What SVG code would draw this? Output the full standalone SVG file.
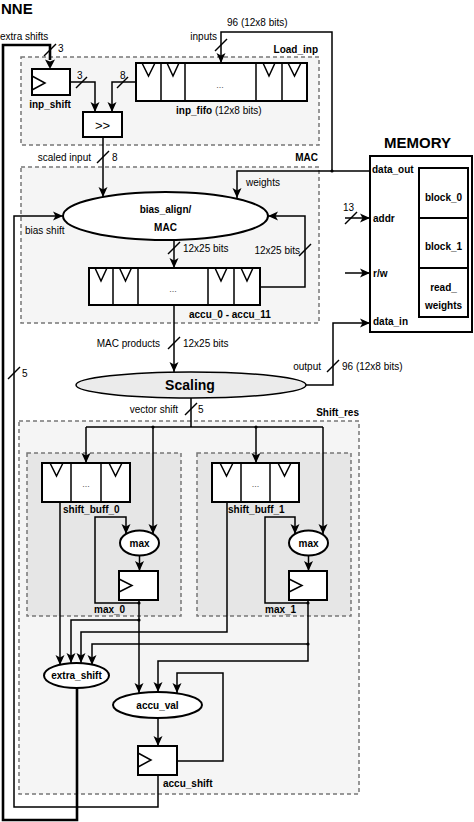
<svg xmlns="http://www.w3.org/2000/svg" width="474" height="822" viewBox="0 0 474 822">
<defs>
<style>
text{font-family:"Liberation Sans",Arial,sans-serif;font-size:10px;fill:#000}
.b{font-weight:bold}
.c{text-anchor:middle}
.e{text-anchor:end}
.dots{font-size:9px;fill:#555;text-anchor:middle}
.grp{fill:#f5f5f5;stroke:#777;stroke-width:1.5;stroke-dasharray:4 3}
.grp2{fill:#e6e6e6;stroke:#777;stroke-width:1.5;stroke-dasharray:4 3}
.box{fill:#fff;stroke:#000;stroke-width:2}
.ln{fill:none;stroke:#000;stroke-width:1.5}
.arr{fill:none;stroke:#000;stroke-width:1.5;marker-end:url(#ah)}
.thick{fill:none;stroke:#000;stroke-width:2.6}
.tick{stroke:#000;stroke-width:1.5}
.clk{fill:none;stroke:#000;stroke-width:1.5}
</style>
<marker id="ah" markerWidth="10" markerHeight="10" refX="10" refY="5" orient="auto" markerUnits="userSpaceOnUse">
<path d="M0,0.5 L10,5 L0,9.5 L2.5,5 z" fill="#000"/>
</marker>
</defs>

<rect width="474" height="822" fill="#fff"/>
<text x="1" y="14" class="b" style="font-size:15px">NNE</text>

<!-- group boxes -->
<g id="Load_inp">
<rect x="21" y="57" width="298" height="88" class="grp"/>
<text x="318" y="53" class="b e">Load_inp</text>
</g>
<g id="MAC">
<rect x="21" y="167" width="298" height="156" class="grp"/>
<text x="318" y="161" class="b e">MAC</text>
</g>
<g id="Shift_res">
<rect x="19" y="421" width="340" height="373" class="grp"/>
<text x="359" y="416" class="b e">Shift_res</text>
<rect x="27" y="453" width="154" height="163" class="grp2"/>
<rect x="197" y="453" width="154" height="163" class="grp2"/>
</g>

<!-- connectors -->
<g id="connectors">
<polyline class="thick" points="77,688 77,820 3,820 3,45 50,45 50,60"/>
<path d="M45,59.5 L50,69 L55,59.5 L50,61.5 z" fill="#000"/>
<polyline class="arr" points="370,171 237,171 237,198"/>
<polyline class="arr" points="332,171 332,32 221,32 221,63"/>
<circle cx="332" cy="171" r="1.6"/>
<polyline class="arr" points="70,82 95,82 95,112"/>
<polyline class="arr" points="136,82 112,82 112,112"/>
<line class="arr" x1="103" y1="137" x2="103" y2="197"/>
<line class="arr" x1="174" y1="240" x2="174" y2="268"/>
<polyline class="arr" points="260,287 305,287 305,216 268,216"/>
<line class="arr" x1="174" y1="305" x2="174" y2="372"/>
<polyline class="arr" points="306,385 333,385 333,323 370,323"/>
<line class="arr" x1="345" y1="218" x2="370" y2="218"/>
<line class="arr" x1="345" y1="273" x2="370" y2="273"/>
<line class="ln" x1="191" y1="398" x2="191" y2="427"/>
<line class="ln" x1="86" y1="427" x2="323" y2="427"/>
<line class="arr" x1="86" y1="427" x2="86" y2="463"/>
<line class="arr" x1="153" y1="427" x2="153" y2="534"/>
<line class="arr" x1="256" y1="427" x2="256" y2="463"/>
<line class="arr" x1="323" y1="427" x2="323" y2="534"/>
<circle cx="153" cy="427" r="1.6"/>
<circle cx="256" cy="427" r="1.6"/>
<!-- max_0 loop -->
<line class="arr" x1="139.5" y1="555.5" x2="139.5" y2="571"/>
<polyline class="arr" points="139,603 95,603 95,517 126,517 126,534"/>
<circle cx="139" cy="603" r="1.6"/>
<!-- max_1 loop -->
<line class="arr" x1="308.5" y1="555.5" x2="308.5" y2="571"/>
<polyline class="arr" points="308,603 265,603 265,517 295,517 295,534"/>
<circle cx="308" cy="603" r="1.6"/>
<!-- to extra_shift / accu_val -->
<line class="arr" x1="60" y1="502" x2="60" y2="665"/>
<line class="arr" x1="139" y1="600" x2="139" y2="693"/>
<polyline class="arr" points="139,620 71,620 71,663"/>
<circle cx="139" cy="620" r="1.6"/>
<polyline class="arr" points="227,502 227,632 81,632 81,663"/>
<polyline class="arr" points="308,600 308,661 158,661 158,692"/>
<polyline class="arr" points="308,644 92,644 92,665"/>
<circle cx="308" cy="644" r="1.6"/>
<line class="arr" x1="158" y1="718" x2="158" y2="746"/>
<polyline class="arr" points="177,761 223,761 223,673 177,673 177,693"/>
<polyline class="arr" points="158,775 158,807 14,807 14,216 63,216"/>
<!-- ticks -->
<line class="tick" x1="44" y1="56" x2="56" y2="44"/>
<line class="tick" x1="215" y1="51" x2="227" y2="39"/>
<line class="tick" x1="76" y1="88" x2="87" y2="77"/>
<line class="tick" x1="117" y1="88" x2="128" y2="77"/>
<line class="tick" x1="97" y1="163" x2="109" y2="151"/>
<line class="tick" x1="168" y1="254" x2="180" y2="242"/>
<line class="tick" x1="299" y1="256" x2="311" y2="244"/>
<line class="tick" x1="168" y1="349" x2="180" y2="337"/>
<line class="tick" x1="327" y1="372" x2="339" y2="360"/>
<line class="tick" x1="185" y1="415" x2="197" y2="403"/>
<line class="tick" x1="8" y1="379" x2="20" y2="367"/>
<line class="tick" x1="345" y1="224" x2="357" y2="212"/>
<!-- connector labels -->
<text x="0" y="40">extra shifts</text>
<text x="58" y="52">3</text>
<text x="217" y="40" class="e">inputs</text>
<text x="227" y="26">96 (12x8 bits)</text>
<text x="77" y="79">3</text>
<text x="120" y="79">8</text>
<text x="91" y="161" class="e">scaled input</text>
<text x="112" y="161">8</text>
<text x="246" y="186">weights</text>
<text x="25" y="234">bias shift</text>
<text x="183" y="252">12x25 bits</text>
<text x="300" y="254" class="e">12x25 bits</text>
<text x="160" y="347" class="e">MAC products</text>
<text x="183" y="347">12x25 bits</text>
<text x="321" y="370" class="e">output</text>
<text x="342" y="370">96 (12x8 bits)</text>
<text x="178" y="413" class="e">vector shift</text>
<text x="198" y="413">5</text>
<text x="22" y="377">5</text>
<text x="343" y="211">13</text>
</g>

<!-- nodes -->
<g id="inp_shift">
<rect x="32" y="69" width="38" height="26" class="box"/>
<polyline class="clk" points="32,76 45,83 32,90"/>
<text x="50" y="108" class="b c">inp_shift</text>
</g>
<g id="inp_fifo">
<rect x="136" y="63" width="171" height="38" class="box"/>
<path class="ln" d="M161,63V101M185,63V101M256,63V101M282,63V101M142,63L148.5,76L155,63M167,63L173,76L179,63M263,63L269,76L275,63M288,63L294.5,76L301,63"/>
<text x="220" y="88" class="dots">...</text>
<text x="176" y="114"><tspan class="b">inp_fifo</tspan> (12x8 bits)</text>
</g>
<g id="shifter">
<rect x="83" y="112" width="39" height="25" class="box"/>
<text x="102.5" y="130" class="c" style="font-size:13px">&gt;&gt;</text>
</g>
<g id="bias_align_MAC">
<ellipse cx="165.5" cy="216" rx="102.5" ry="24" class="box"/>
<text x="165.5" y="213" class="b c">bias_align/</text>
<text x="165.5" y="231" class="b c">MAC</text>
</g>
<g id="accu">
<rect x="89" y="268" width="171" height="37" class="box"/>
<path class="ln" d="M113,268V305M138,268V305M208,268V305M234,268V305M95,268L101,281L107,268M119.5,268L125.5,281L131.5,268M215,268L221,281L227,268M241,268L247,281L253,268"/>
<text x="173" y="292" class="dots">...</text>
<text x="189" y="318" class="b">accu_0 - accu_11</text>
</g>
<g id="Scaling">
<ellipse cx="191" cy="385" rx="115" ry="13" fill="#ebebeb" stroke="#000" stroke-width="1.5"/>
<text x="190" y="390" class="b c" style="font-size:14px">Scaling</text>
</g>
<g id="MEMORY">
<text x="417.5" y="148" class="b c" style="font-size:15px">MEMORY</text>
<rect x="370" y="156" width="102" height="176" class="box"/>
<rect x="419" y="168" width="49" height="50" class="box"/>
<rect x="419" y="218" width="49" height="50" class="box"/>
<rect x="419" y="268" width="49" height="49" class="box"/>
<text x="443.5" y="201" class="b c">block_0</text>
<text x="443.5" y="250" class="b c">block_1</text>
<text x="443.5" y="291" class="b c">read_</text>
<text x="443.5" y="309" class="b c">weights</text>
<text x="372" y="173" class="b">data_out</text>
<text x="373" y="222" class="b">addr</text>
<text x="373" y="277" class="b">r/w</text>
<text x="373" y="325" class="b">data_in</text>
</g>
<g id="shift_buff_0">
<rect x="42" y="463" width="88" height="39" class="box"/>
<path class="ln" d="M71,463V502M101,463V502M50,463L56.5,476L63,463M109,463L115.5,476L122,463"/>
<text x="86" y="487" class="dots">...</text>
<text x="63" y="513" class="b">shift_buff_0</text>
</g>
<g id="max_0_op">
<ellipse cx="139.5" cy="543" rx="19.5" ry="12.5" class="box"/>
<text x="139.5" y="547" class="b c">max</text>
</g>
<g id="max_0">
<rect x="119" y="571" width="39" height="29" class="box"/>
<polyline class="clk" points="119,579 132,585.5 119,592"/>
<text x="94" y="613" class="b">max_0</text>
</g>
<g id="shift_buff_1">
<rect x="212" y="463" width="87" height="39" class="box"/>
<path class="ln" d="M241,463V502M270,463V502M220,463L226.5,476L233,463M278,463L284.5,476L291,463"/>
<text x="255.5" y="487" class="dots">...</text>
<text x="228" y="513" class="b">shift_buff_1</text>
</g>
<g id="max_1_op">
<ellipse cx="308.5" cy="543" rx="19.5" ry="12.5" class="box"/>
<text x="308.5" y="547" class="b c">max</text>
</g>
<g id="max_1">
<rect x="289" y="571" width="38" height="29" class="box"/>
<polyline class="clk" points="289,579 302,585.5 289,592"/>
<text x="265" y="613" class="b">max_1</text>
</g>
<g id="extra_shift">
<ellipse cx="76.5" cy="675.5" rx="32.5" ry="12.5" class="box"/>
<text x="76.5" y="679" class="b c">extra_shift</text>
</g>
<g id="accu_val">
<ellipse cx="157.5" cy="705" rx="44.5" ry="13" class="box"/>
<text x="157.5" y="709" class="b c">accu_val</text>
</g>
<g id="accu_shift">
<rect x="138" y="746" width="39" height="29" class="box"/>
<polyline class="clk" points="138,753 151,760 138,767"/>
<text x="163" y="787" class="b">accu_shift</text>
</g>
</svg>
